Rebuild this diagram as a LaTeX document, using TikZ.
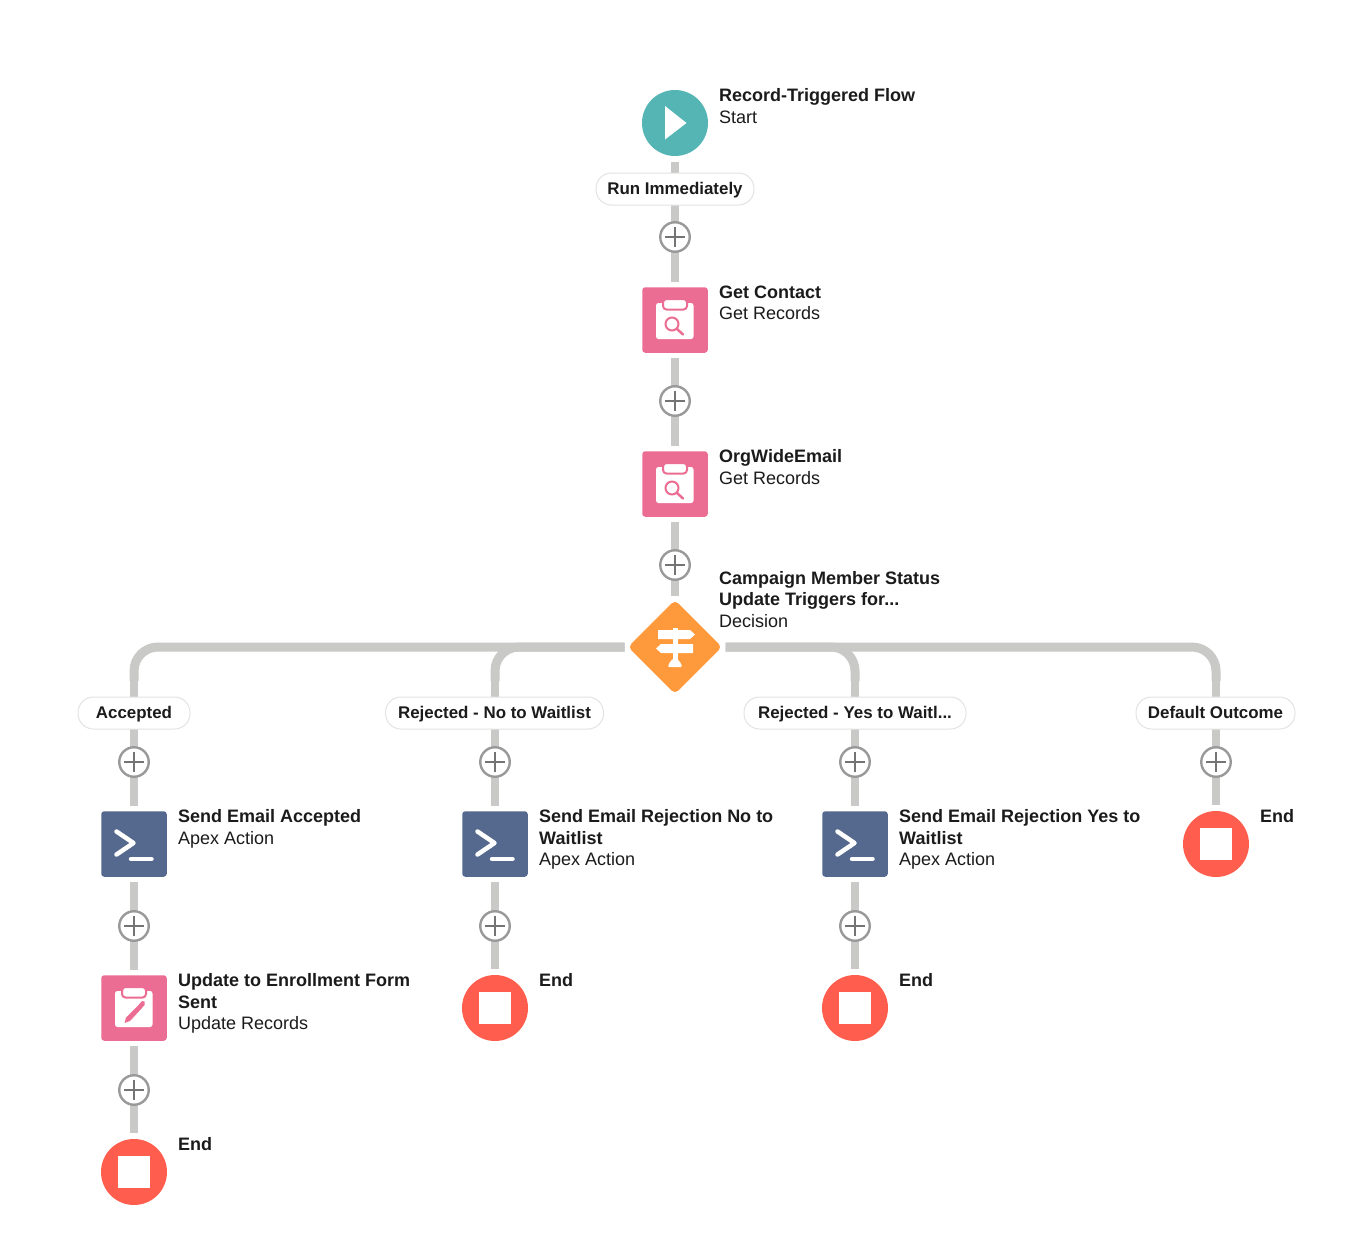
\documentclass[tikz,border=0pt]{standalone}
\usepackage{fontspec}
\setmainfont{Liberation Sans}
\usetikzlibrary{shapes.geometric,backgrounds}
\definecolor{conn}{HTML}{C9C9C7}
\definecolor{teal}{HTML}{54B5B4}
\definecolor{rosy}{HTML}{EC6D93}
\definecolor{slate}{HTML}{54698D}
\definecolor{orng}{HTML}{FF9A3C}
\definecolor{redd}{HTML}{FF5D4D}
\definecolor{ink}{HTML}{1B1B1B}
\definecolor{ringc}{HTML}{999999}
\definecolor{pluss}{HTML}{747474}
\tikzset{
  x=1pt,y=-1pt,
  conline/.style={draw=conn,line width=8pt,shorten <=5.5pt,shorten >=5.5pt},
  arcline/.style={draw=conn,line width=9pt,rounded corners=24pt,shorten <=2pt},
  elembox/.style={rectangle,rounded corners=3pt,minimum size=65.5pt,inner sep=0pt},
  circ/.style={circle,minimum size=66pt,inner sep=0pt},
  pill/.style={draw=black!11,line width=1pt,fill=white,rounded corners=15.5pt,minimum height=32pt,inner sep=0pt,text height=13pt,text depth=2pt,font=\fontsize{16.9}{18}\selectfont\bfseries,text=ink},
  addbtn/.style={circle,draw=ringc,line width=2.4pt,fill=white,minimum size=29.5pt,inner sep=0pt,
    path picture={\draw[pluss,line width=2.4pt] ([xshift=-10pt]path picture bounding box.center) -- ([xshift=10pt]path picture bounding box.center) ([yshift=-10pt]path picture bounding box.center) -- ([yshift=10pt]path picture bounding box.center);}},
  lab/.style={anchor=north west,inner sep=0pt,align=left,text=ink,font=\fontsize{18}{21.5}\selectfont},
  pics/clipbase/.style={code={
    \fill[white,rounded corners=2.5pt] (-19,-17) rectangle (18.5,19);
    \fill[white,draw=rosy,line width=2pt,rounded corners=3.5pt] (-12,-21) rectangle (12,-10.5);
  }},
  pics/searchicon/.style={code={
    \pic {clipbase};
    \draw[rosy,line width=2pt] (-3,4) circle (6.5);
    \draw[rosy,line width=2.5pt,line cap=round] (1.8,8.8) -- (8,14.5);
  }},
  pics/editicon/.style={code={
    \pic {clipbase};
    \fill[rosy] (-9.5,15) -- (-8,9.5) -- (5,-3.5) -- (8,-7) -- (10.5,-6.5) -- (10.5,-3) -- (7.5,0.5) -- (-4,13) -- cycle;
  }},
  pics/apexicon/.style={code={
    \draw[white,line width=4.5pt,line cap=round,line join=round] (-17.5,-12.5) -- (-0.5,-1) -- (-17.5,10.5);
    \draw[white,line width=4.5pt,line cap=round] (-3,15) -- (17.5,15);
  }},
  pics/stopicon/.style={code={\fill[white] (-16,-16) rectangle (16,16);}},
  pics/playicon/.style={code={\fill[white] (-10,-17) -- (11.5,0) -- (-10,16.5) -- cycle;}},
  pics/signicon/.style={code={
    \fill[white] (-2.5,-19.5) rectangle (2.5,-2);
    \fill[white] (-17,-17) -- (15,-17) -- (20,-12.5) -- (15,-8) -- (-17,-8) -- cycle;
    \fill[white] (-14,-3) -- (18,-3) -- (18,6) -- (-14,6) -- (-19,1.5) -- cycle;
    \fill[white] (-2.5,6) rectangle (2.5,13);
    \fill[white,rounded corners=1pt] (-7,20) -- (-6,16.5) -- (-2.5,12) -- (2.5,12) -- (6,16.5) -- (7,20) -- cycle;
  }},
}
\begin{document}
\begin{tikzpicture}
\useasboundingbox (0,0) rectangle (1352,1242);
% elements
\node[circ,fill=teal] (start) at (675,123) {};
\pic at (start.center) {playicon};
\node[lab] (tstart) at (719,88.5) {\textbf{Record-Triggered Flow}\\Start};
\node[pill,minimum width=158pt] (prun) at (675,189) {Run Immediately};
\node[addbtn] (a1) at (675,237) {};
\node[elembox,fill=rosy] (gc) at (675,320) {};
\pic at (gc.center) {searchicon};
\node[lab] (tgc) at (719,285.5) {\textbf{Get Contact}\\Get Records};
\node[addbtn] (a2) at (675,401) {};
\node[elembox,fill=rosy] (ow) at (675,484) {};
\pic at (ow.center) {searchicon};
\node[lab] (tow) at (719,449.5) {\textbf{OrgWideEmail}\\Get Records};
\node[addbtn] (a3) at (675,565) {};
\node[diamond,aspect=1,fill=orng,draw=white,line width=1pt,rounded corners=5pt,minimum width=96pt,minimum height=96pt,inner sep=0pt] (dec) at (675,647) {};
\pic at (dec.center) {signicon};
\node[lab] (tdec) at (719,571) {\textbf{Campaign Member Status}\\\textbf{Update Triggers for...}\\Decision};
% column A
\coordinate (ka) at (134,681);
\node[pill,minimum width=112pt] (pa) at (134,713) {Accepted};
\node[addbtn] (a4) at (134,762) {};
\node[elembox,fill=slate] (sa) at (134,844) {};
\pic at (sa.center) {apexicon};
\node[lab] (tsa) at (178,809.5) {\textbf{Send Email Accepted}\\Apex Action};
\node[addbtn] (a5) at (134,926) {};
\node[elembox,fill=rosy] (ue) at (134,1008) {};
\pic at (ue.center) {editicon};
\node[lab] (tue) at (178,973.5) {\textbf{Update to Enrollment Form}\\\textbf{Sent}\\Update Records};
\node[addbtn] (a6) at (134,1090) {};
\node[circ,fill=redd] (ea) at (134,1172) {};
\pic at (ea.center) {stopicon};
\node[lab] (tea) at (178,1137.5) {\textbf{End}};
% column B
\coordinate (kb) at (495,681);
\node[pill,minimum width=218pt] (pb) at (494.5,713) {Rejected - No to Waitlist};
\node[addbtn] (a7) at (495,762) {};
\node[elembox,fill=slate] (sb) at (495,844) {};
\pic at (sb.center) {apexicon};
\node[lab] (tsb) at (539,809.5) {\textbf{Send Email Rejection No to}\\\textbf{Waitlist}\\Apex Action};
\node[addbtn] (a8) at (495,926) {};
\node[circ,fill=redd] (eb) at (495,1008) {};
\pic at (eb.center) {stopicon};
\node[lab] (teb) at (539,973.5) {\textbf{End}};
% column C
\coordinate (kc) at (855,681);
\node[pill,minimum width=222pt] (pc) at (855,713) {Rejected - Yes to Waitl...};
\node[addbtn] (a9) at (855,762) {};
\node[elembox,fill=slate] (sc) at (855,844) {};
\pic at (sc.center) {apexicon};
\node[lab] (tsc) at (899,809.5) {\textbf{Send Email Rejection Yes to}\\\textbf{Waitlist}\\Apex Action};
\node[addbtn] (a10) at (855,926) {};
\node[circ,fill=redd] (ec) at (855,1008) {};
\pic at (ec.center) {stopicon};
\node[lab] (tec) at (899,973.5) {\textbf{End}};
% column D
\coordinate (kd) at (1216,681);
\node[pill,minimum width=159pt] (pd) at (1215.5,713) {Default Outcome};
\node[addbtn] (a11) at (1216,762) {};
\node[circ,fill=redd] (ed) at (1216,844) {};
\pic at (ed.center) {stopicon};
\node[lab] (ted) at (1260,809.5) {\textbf{End}};
% connectors
\begin{pgfonlayer}{background}
\fill[white] (0,0) rectangle (1352,1242);
\draw[conline] (start) -- (gc);
\draw[conline] (gc) -- (ow);
\draw[conline,shorten >=2.5pt] (ow) -- (dec);
\draw[arcline] (dec.west) -| (ka);
\draw[arcline] (dec.west) -| (kb);
\draw[arcline] (dec.east) -| (kc);
\draw[arcline] (dec.east) -| (kd);
\draw[conline,shorten <=0pt] (ka) -- (sa);
\draw[conline] (sa) -- (ue);
\draw[conline] (ue) -- (ea);
\draw[conline,shorten <=0pt] (kb) -- (sb);
\draw[conline] (sb) -- (eb);
\draw[conline,shorten <=0pt] (kc) -- (sc);
\draw[conline] (sc) -- (ec);
\draw[conline,shorten <=0pt] (kd) -- (ed);
\end{pgfonlayer}
\end{tikzpicture}
\end{document}
